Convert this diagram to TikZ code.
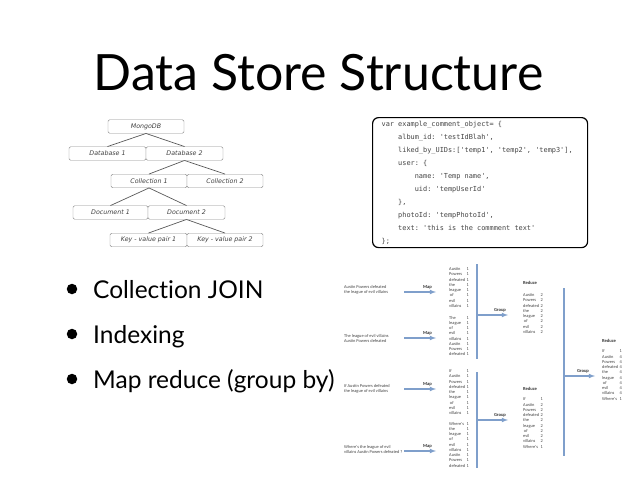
\documentclass[tikz,border=0pt]{standalone}
\usepackage{fontspec}
\setmainfont{Lato}[Ligatures=NoCommon]
\newfontfamily\treefont{DejaVu Sans}
\newfontfamily\codefont{DejaVu Sans Mono}
\newfontfamily\mrfont{Carlito}
\definecolor{flowblue}{HTML}{7F9FCB}
\definecolor{inkgray}{HTML}{444444}
\newcommand{\codeind}{\phantom{0000}}
\newcommand{\csp}{\phantom{0}}
\newcommand{\qt}{\textquotesingle}
\newcommand{\wordlist}[1]{\begin{tabular}{@{}l@{\hspace{1.6pt}}l@{}}#1\end{tabular}}
\tikzset{
  dbbox/.style={draw=black!45, rounded corners=1.5pt, fill=white, inner sep=0pt,
    minimum height=13.5pt, text=black!75,
    font=\treefont\itshape\fontsize{6.3}{7}\selectfont},
  treeedge/.style={draw=black!65, line width=0.7pt},
  words/.style={anchor=west, inner sep=0pt, text=inkgray,
    font=\mrfont\fontsize{4.4}{5.25}\selectfont},
  intext/.style={anchor=west, inner sep=0pt, align=left, text=inkgray,
    font=\mrfont\fontsize{4.4}{5}\selectfont},
  steplabel/.style={inner sep=0.8pt, text=black!80, font=\mrfont\bfseries\fontsize{4.6}{5}\selectfont},
  flow/.style={draw=flowblue, line width=1.1pt, -latex},
  bar/.style={draw=flowblue, line width=1.1pt},
  dot/.style={circle, fill=black, inner sep=0pt, minimum size=10.5pt}
}
\begin{document}
\begin{tikzpicture}[x=1pt, y=-1pt]
        \useasboundingbox (0,0) rectangle (638,479);

        \node[anchor=base, font=\fontsize{50}{60}\selectfont] (title) at (318.5,90) {Data Store Structure};

        % tree
        \node[dbbox, minimum width=76pt] (mongo) at (146,126.5) {MongoDB};
        \node[dbbox, minimum width=77pt] (db1) at (107.5,153.5) {Database 1};
        \node[dbbox, minimum width=77pt] (db2) at (184.5,153.5) {Database 2};
        \node[dbbox, minimum width=76pt] (col1) at (149,181) {Collection 1};
        \node[dbbox, minimum width=76pt] (col2) at (225,181) {Collection 2};
        \node[dbbox, minimum width=75pt] (doc1) at (110.5,212.5) {Document 1};
        \node[dbbox, minimum width=77pt] (doc2) at (186.5,212.5) {Document 2};
        \node[dbbox, minimum width=77pt] (kv1) at (148.5,240) {Key - value pair 1};
        \node[dbbox, minimum width=76pt] (kv2) at (225,240) {Key - value pair 2};

        \draw[treeedge] (mongo.south) -- (db1.north);
        \draw[treeedge] (mongo.south) -- (db2.north);
        \draw[treeedge] (db2.south) -- (col1.north);
        \draw[treeedge] (db2.south) -- (col2.north);
        \draw[treeedge] (col1.south) -- (doc1.north);
        \draw[treeedge] (col1.south) -- (doc2.north);
        \draw[treeedge] (doc2.south) -- (kv1.north);
        \draw[treeedge] (doc2.south) -- (kv2.north);

        % code
        \node[anchor=north west, draw=black, line width=1.2pt, rounded corners=6pt,
          minimum width=215pt, minimum height=130pt, inner xsep=9pt, inner ysep=2pt,
          text width=197pt, align=left, text=inkgray,
          font=\codefont\fontsize{6.9}{13}\selectfont] (code) at (372,117) {%
          var\csp example\_comment\_object=\csp\{\\
          \codeind album\_id:\csp\qt testIdBlah\qt,\\
          \codeind liked\_by\_UIDs:[\qt temp1\qt,\csp\qt temp2\qt,\csp\qt temp3\qt],\\
          \codeind user:\csp\{\\
          \codeind\codeind name:\csp\qt Temp\csp name\qt,\\
          \codeind\codeind uid:\csp\qt tempUserId\qt\\
          \codeind \},\\
          \codeind photoId:\csp\qt tempPhotoId\qt,\\
          \codeind text:\csp\qt this\csp is\csp the\csp commment\csp text\qt\\
          \};};

        % bullets
        \node[dot] (b1) at (72,289) {};
        \node[dot] (b2) at (72,334) {};
        \node[dot] (b3) at (72,379) {};
        \node[anchor=base west, inner sep=0pt, font=\fontsize{24.5}{28}\selectfont] (item1) at (93,298) {Collection JOIN};
        \node[anchor=base west, inner sep=0pt, font=\fontsize{24.5}{28}\selectfont] (item2) at (93,343) {Indexing};
        \node[anchor=base west, inner sep=0pt, font=\fontsize{24.5}{28}\selectfont] (item3) at (93,388) {Map reduce (group by)};

        % map reduce
        \node[intext] (in1) at (344,289.5) {Austin Powers defeated\\ the league of evil villains};
        \node[intext] (in2) at (344,338.5) {The league of evil villains\\ Austin Powers defeated};
        \node[intext] (in3) at (344,388.5) {If Austin Powers defeated\\ the league of evil villains};
        \node[intext] (in4) at (344,449.5) {Where's the league of evil\\ villains Austin Powers defeated ?};

        \node[words] (list1) at (449,288) {\wordlist{Austin&1\\ Powers&1\\ defeated&1\\ the&1\\ league&1\\ \,of&1\\ evil&1\\ villains&1}};
        \node[words] (list2) at (449,336.5) {\wordlist{The&1\\ league&1\\ of&1\\ evil&1\\ villains&1\\ Austin&1\\ Powers&1\\ defeated&1}};
        \node[words] (list3) at (449,392.5) {\wordlist{If&1\\ Austin&1\\ Powers&1\\ defeated&1\\ the&1\\ league&1\\ \,of&1\\ evil&1\\ villains&1}};
        \node[words] (list4) at (449,445) {\wordlist{Where's&1\\ the&1\\ league&1\\ of&1\\ evil&1\\ villains&1\\ Austin&1\\ Powers&1\\ defeated&1}};

        \node[words] (red1) at (523,314) {\wordlist{Austin&2\\ Powers&2\\ defeated&2\\ the&2\\ league&2\\ \,of&2\\ evil&2\\ villains&2}};
        \node[words] (red2) at (523,423.5) {\wordlist{If&1\\ Austin&2\\ Powers&2\\ defeated&2\\ the&2\\ league&2\\ \,of&2\\ evil&2\\ villains&2\\ Where's&1}};
        \node[words] (red3) at (602,375.5) {\wordlist{If&1\\ Austin&4\\ Powers&4\\ defeated&4\\ the&4\\ league&4\\ \,of&4\\ evil&4\\ villains&4\\ Where's&1}};
        \node[steplabel, anchor=west] (rlab1) at (522,283) {Reduce};
        \node[steplabel, anchor=west] (rlab2) at (522,389) {Reduce};
        \node[steplabel, anchor=west] (rlab3) at (601,341) {Reduce};

        \foreach \i/\y in {1/292,2/338,3/389,4/451} {
          \coordinate (map\i) at (404,\y);
          \draw[flow, shorten >=13pt] (map\i) -- node[steplabel, above=1pt, xshift=1pt]{Map} (map\i -| list\i.west);
        }

        \coordinate (g1top) at (477,264);
        \coordinate (g1bot) at (477,359);
        \coordinate (g2top) at (477,372);
        \coordinate (g2bot) at (477,468);
        \coordinate (g3top) at (564,288);
        \coordinate (g3bot) at (564,456);
        \draw[bar] (g1top) -- (g1bot);
        \draw[bar] (g2top) -- (g2bot);
        \draw[bar] (g3top) -- (g3bot);

        \coordinate (grp1) at (477,315);
        \coordinate (grp2) at (477,420);
        \coordinate (grp3) at (564,376);
        \draw[flow, shorten >=15pt] (grp1) -- node[steplabel, above=1pt]{Group} (grp1 -| red1.west);
        \draw[flow, shorten >=15pt] (grp2) -- node[steplabel, above=1pt]{Group} (grp2 -| red2.west);
        \draw[flow, shorten >=7pt] (grp3) -- node[steplabel, above=1pt]{Group} (grp3 -| red3.west);
\end{tikzpicture}
\end{document}
